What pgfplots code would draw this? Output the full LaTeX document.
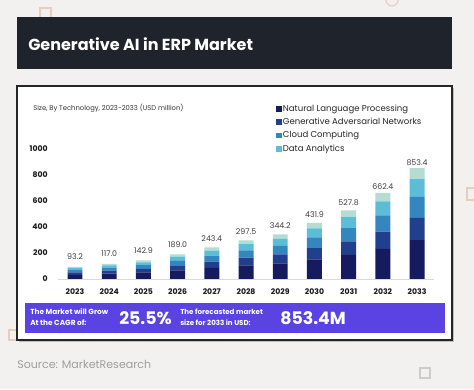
\documentclass[border=0pt]{standalone}
\usepackage{pgfplots}
\pgfplotsset{compat=1.18}
\usepackage{pgfplotstable}
\usepackage{fontspec}
\setmainfont{Poppins}
\definecolor{bgc}{HTML}{F2F1EF}
\definecolor{banner}{HTML}{1F232B}
\definecolor{cNLP}{HTML}{151B5E}
\definecolor{cGAN}{HTML}{223F8E}
\definecolor{cCC}{HTML}{3387BE}
\definecolor{cDA}{HTML}{5BBDD8}
\definecolor{cOT}{HTML}{B4DCD2}
\definecolor{purp}{HTML}{5B43E3}
\definecolor{deco}{HTML}{E9CDB9}

\pgfplotstableread{
x nlp gan cc da oth total
0 32.6 18.6 17.7 14.9 9.4 93.2
1 41.0 23.4 22.2 18.7 11.7 117.0
2 50.0 28.6 27.2 22.9 14.2 142.9
3 66.2 37.8 35.9 30.2 18.9 189.0
4 85.2 48.7 46.2 38.9 24.4 243.4
5 104.1 59.5 56.5 47.6 29.8 297.5
6 120.5 68.8 65.4 55.1 34.4 344.2
7 151.2 86.4 82.1 69.1 43.1 431.9
8 184.7 105.6 100.3 84.4 52.8 527.8
9 231.8 132.5 125.9 106.0 66.2 662.4
10 298.7 170.7 162.1 136.5 85.4 853.4
}\data

\begin{document}
\begin{tikzpicture}[x=0.75pt,y=0.75pt]
\useasboundingbox (0,0) rectangle (474,389);
\clip (0,0) rectangle (474,389);
\fill[bgc] (0,0) rectangle (474,389);
% decorations
\draw[deco, line width=0.8] (40,370) rectangle (51,381);
\draw[deco, line width=0.8] (392,389) circle (6);
\draw[deco, line width=0.8] (467,189) rectangle (479,201);
\draw[black!20, line width=0.8] (420,11) rectangle (430,21);
\draw[deco, line width=0.8] (9,49) rectangle (19,59);
% banner
\fill[banner] (17,320) rectangle (452,372);
\node[anchor=west, text=white, font=\fontsize{12}{14}\selectfont\bfseries, inner sep=0pt] at (28,345) {Generative AI in ERP Market};
% card
\fill[black!25] (19,47) rectangle (454,301);
\filldraw[fill=white, draw=black!85, line width=1.1pt] (17,49) rectangle (452,303);
\fill[purp] (25,56) rectangle (445,86);
\node[anchor=base west, text=white, font=\fontsize{5.5}{6}\selectfont\bfseries, inner sep=0pt] at (30,74.5) {The Market will Grow};
\node[anchor=base west, text=white, font=\fontsize{5.5}{6}\selectfont\bfseries, inner sep=0pt] at (30,63.5) {At the CAGR of:};
\node[anchor=west, text=white, font=\fontsize{13}{15}\selectfont\bfseries, inner sep=0pt] at (119,71) {25.5\%};
\node[anchor=base west, text=white, font=\fontsize{5.3}{6}\selectfont\bfseries, inner sep=0pt] at (180,74.5) {The forecasted market};
\node[anchor=base west, text=white, font=\fontsize{5.3}{6}\selectfont\bfseries, inner sep=0pt] at (180,63.5) {size for 2033 in USD:};
\node[anchor=west, text=white, font=\fontsize{13}{15}\selectfont\bfseries, inner sep=0pt] at (280,71) {853.4M};
% source
\node[anchor=west, text=black!38, font=\fontsize{8.3}{10}\selectfont, inner sep=0pt] at (17,25) {Source: MarketResearch};
% subtitle
\node[anchor=west, text=black!80, font=\fontsize{5.1}{7}\selectfont, inner sep=0pt] at (33,281) {Size, By Technology, 2023-2033 (USD million)};

\begin{axis}[
  at={(43.43pt,82.5pt)}, anchor=south west,
  scale only axis, width=282.2pt, height=97.5pt,
  xmin=-0.5, xmax=10.5, ymin=0, ymax=1000,
  ybar stacked, bar width=11.2pt,
  axis y line=none, axis x line*=bottom,
  axis line style={black!15, line width=0.5pt},
  xtick=data, xticklabels={2023,2024,2025,2026,2027,2028,2029,2030,2031,2032,2033},
  ytick={0,200,400,600,800,1000},
  major tick length=0pt,
  /pgf/number format/assume math mode=true,
  ticklabel style={font=\fontsize{5.8}{7}\selectfont\bfseries, text=black!90},
  xticklabel style={inner sep=0pt, yshift=-7pt},
  clip=false,
  legend style={at={(0.569,1.369)}, anchor=north west, draw=none, fill=none,
     font=\fontsize{6.4}{7.5}\selectfont, text=black!85,
     nodes={inner sep=0.6pt, text height=5pt, text depth=1.5pt}, row sep=2.2pt},
  legend cell align=left,
  legend entries={Natural Language Processing, Generative Adversarial Networks, Cloud Computing, Data Analytics},
  mybar/.style={fill=#1, draw=none, legend image code/.code={\fill[#1] (0pt,-2.2pt) rectangle (4.4pt,2.2pt);}},
]
\addplot[mybar=cNLP] table[x=x,y=nlp] {\data};
\addplot[mybar=cGAN] table[x=x,y=gan] {\data};
\addplot[mybar=cCC] table[x=x,y=cc] {\data};
\addplot[mybar=cDA] table[x=x,y=da] {\data};
\addplot[mybar=cOT, nodes near coords, point meta=explicit symbolic,
  every node near coord/.append style={font=\fontsize{5.9}{7}\selectfont, text=black!75, anchor=center, yshift=8pt}]
  table[x=x,y=oth,meta=total] {\data};
\end{axis}
\begin{axis}[
  at={(43.43pt,82.5pt)}, anchor=south west,
  scale only axis, width=282.2pt, height=97.5pt,
  xmin=-0.5, xmax=10.5, ymin=0, ymax=1000,
  axis x line=none, axis y line*=left, y axis line style={draw=none},
  ytick={0,200,400,600,800,1000}, major tick length=0pt,
  /pgf/number format/assume math mode=true,
  /pgf/number format/1000 sep={},
  yticklabel style={font=\fontsize{5.8}{7}\selectfont\bfseries, text=black!90, inner sep=0pt, xshift=-7.5pt},
]
\addplot[draw=none] coordinates {(0,0)};
\end{axis}
\end{tikzpicture}
\end{document}
